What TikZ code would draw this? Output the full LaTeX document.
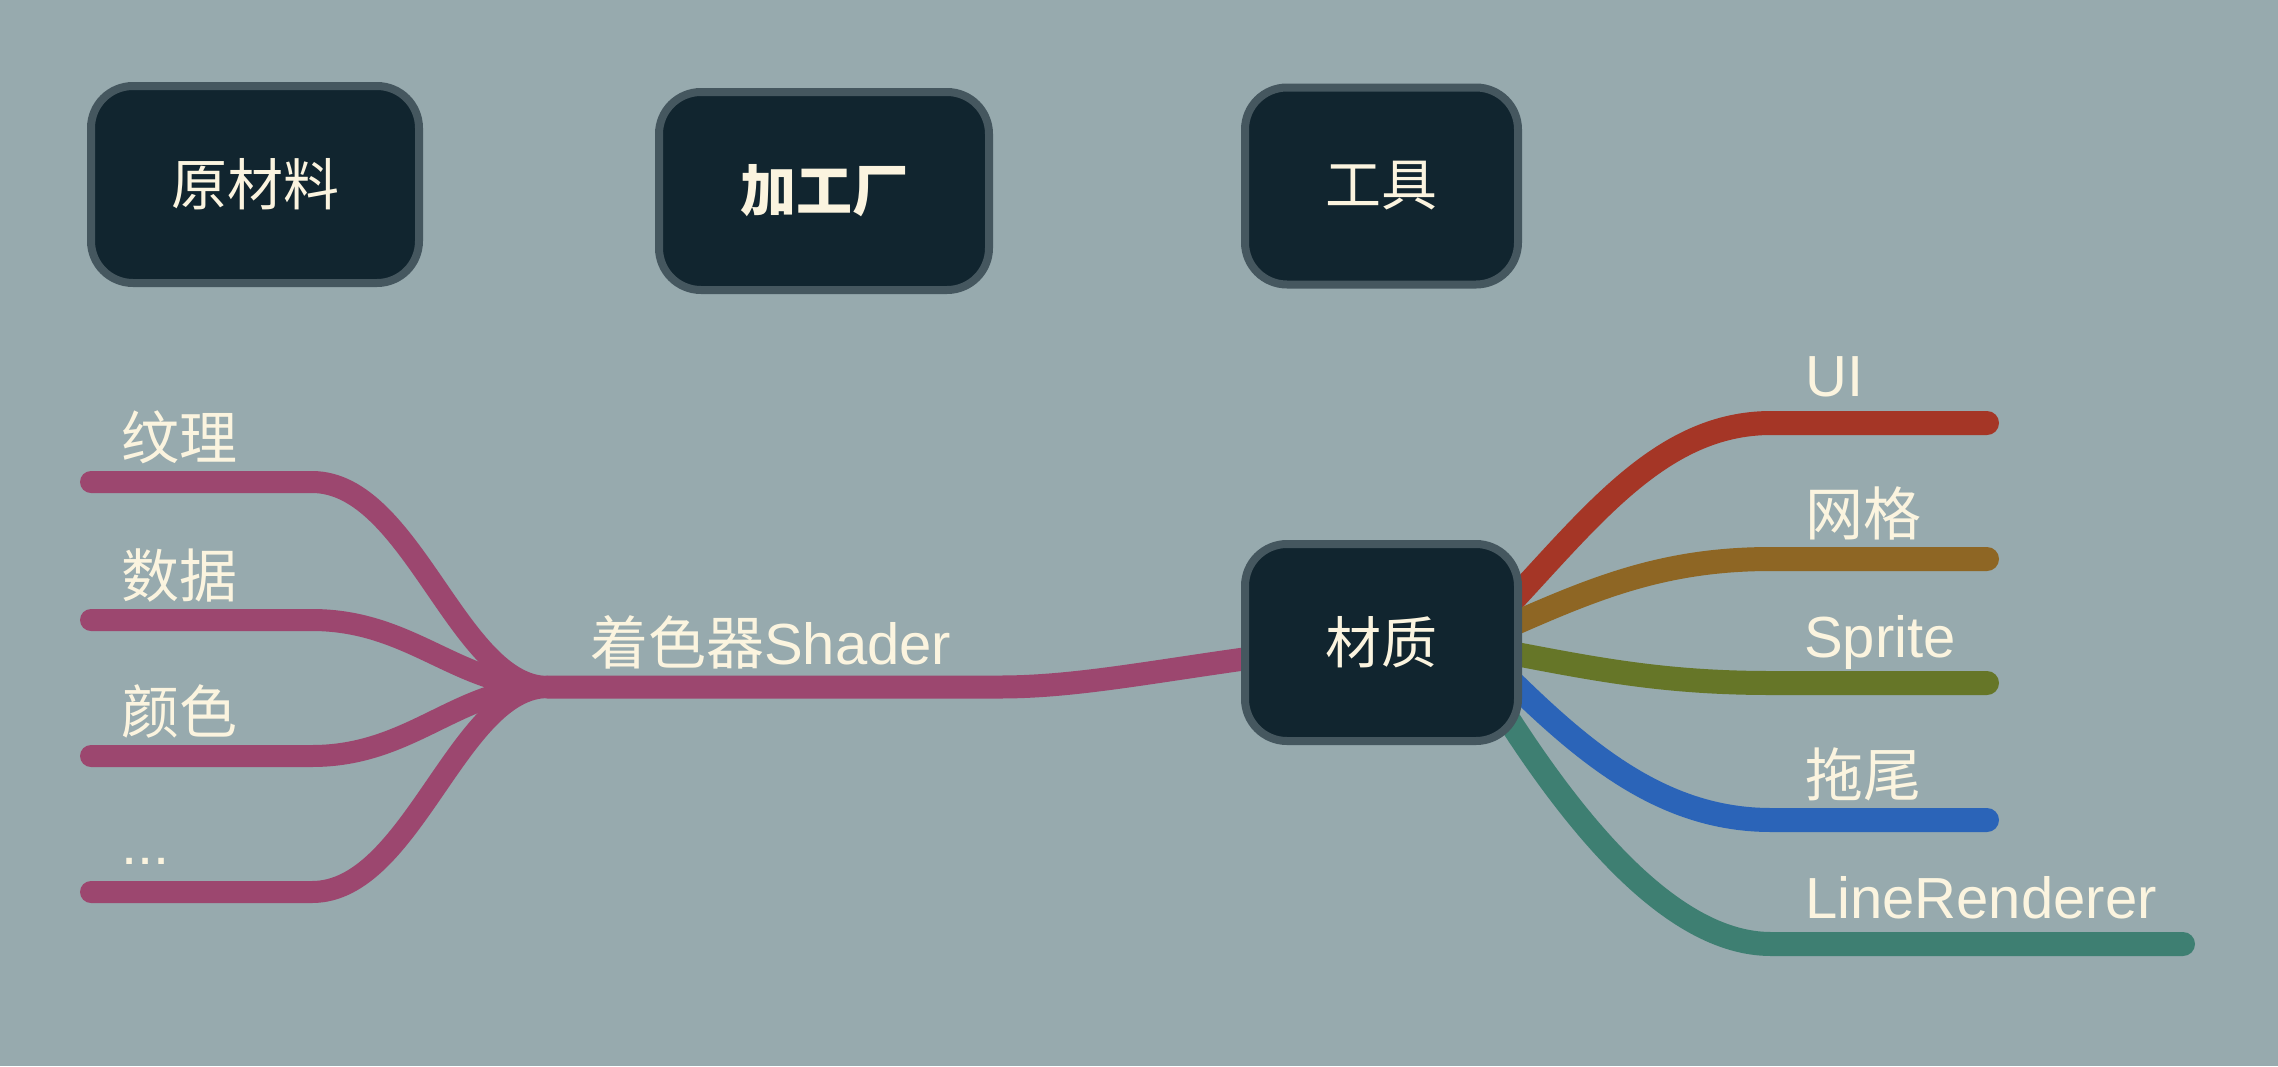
\documentclass[tikz,border=0pt]{standalone}
\usepackage{fontspec}
\setmainfont{Liberation Sans}
\newfontfamily\cjk{Noto Sans CJK SC}
\usetikzlibrary{calc}
\definecolor{bg}{HTML}{97AAAE}
\definecolor{boxfill}{HTML}{11252F}
\definecolor{boxline}{HTML}{45575F}
\definecolor{cream}{HTML}{FBF4DF}
\definecolor{pinkb}{HTML}{9C476F}
\definecolor{redb}{HTML}{A53626}
\definecolor{brownb}{HTML}{8E6624}
\definecolor{oliveb}{HTML}{667628}
\definecolor{blueb}{HTML}{2B64B8}
\definecolor{tealb}{HTML}{3E7F72}
\pgfdeclarelayer{bgfill}
\pgfdeclarelayer{lines}
\pgfsetlayers{bgfill,lines,main}
\begin{document}
\begin{tikzpicture}[x=1pt,y=-1pt,
  box/.style={draw=boxline, fill=boxfill, line width=8pt, rounded corners=42pt,
    minimum width=273pt, minimum height=197pt, text=cream, inner sep=0pt,
    font=\cjk\fontsize{56}{66}\selectfont},
  lbl/.style={anchor=base west, inner sep=0pt, text=cream, font=\fontsize{58}{70}\selectfont},
  branch/.style={line width=22pt, line cap=round},
  rbranch/.style={line width=24pt, line cap=round}
]
\useasboundingbox (0,0) rectangle (2278,1066);
\begin{pgfonlayer}{bgfill}
\fill[bg] (0,0) rectangle (2278,1066);
\end{pgfonlayer}

% boxes
\node[box, minimum width=328pt] (raw) at (255,184.5) {原材料};
\node[box, minimum width=330pt, minimum height=198pt, font=\cjk\bfseries\fontsize{56}{66}\selectfont] (fac) at (824,191) {加工厂};
\node[box] (tool) at (1381.5,186) {工具};
\node[box] (mat) at (1381.5,642.5) {材质};

% coordinates
\coordinate (J) at (548,687);
\coordinate (a1) at (91,482);
\coordinate (a2) at (91,620);
\coordinate (a3) at (91,756);
\coordinate (a4) at (91,892);
\coordinate (shk) at (1000,687);
\coordinate (uiS) at (1771,423);   \coordinate (uiE) at (1987,423);
\coordinate (wgS) at (1771,559);   \coordinate (wgE) at (1987,559);
\coordinate (spS) at (1771,683);   \coordinate (spE) at (1987,683);
\coordinate (twS) at (1771,820);   \coordinate (twE) at (1987,820);
\coordinate (lrS) at (1771,944);   \coordinate (lrE) at (2183,944);

\begin{pgfonlayer}{lines}
% left branches
\draw[branch, pinkb] (a1) -- ++(221,0) .. controls +(100,0) and +(-90,0) .. (J);
\draw[branch, pinkb] (a2) -- ++(221,0) .. controls +(100,0) and +(-90,0) .. (J);
\draw[branch, pinkb] (a3) -- ++(221,0) .. controls +(100,0) and +(-90,0) .. (J);
\draw[branch, pinkb] (a4) -- ++(221,0) .. controls +(100,0) and +(-90,0) .. (J);
% shader to material
\draw[branch, pinkb, line width=23pt] (J) -- (shk) .. controls +(100,0) and (1200,660) .. (mat.center);
% right branches
\draw[rbranch, redb] ($(mat.center)+(118,-28)$) .. controls +(90,-95) and +(-111,0) .. (uiS) -- (uiE);
\draw[rbranch, brownb] ($(mat.center)+(113.5,-10.5)$) .. controls +(95,-42) and +(-111,0) .. (wgS) -- (wgE);
\draw[rbranch, oliveb] ($(mat.center)+(113.5,7.5)$) .. controls +(95,18) and +(-111,0) .. (spS) -- (spE);
\draw[rbranch, blueb] ($(mat.center)+(113.5,22.5)$) .. controls +(85,85) and +(-111,0) .. (twS) -- (twE);
\draw[rbranch, tealb] ($(mat.center)+(108.5,47.5)$) .. controls +(80,130) and +(-101,0) .. (lrS) -- (lrE);
\end{pgfonlayer}

% labels
\node[lbl] (t1) at (121,459) {\cjk 纹理};
\node[lbl] (t2) at (121,597) {\cjk 数据};
\node[lbl] (t3) at (121,733) {\cjk 颜色};
\node[lbl] (t4) at (121,864) {...};
\node[lbl] (sh) at (590,664) {{\cjk 着色器}Shader};
\node[lbl] (ui) at (1805,396) {UI};
\node[lbl] (wg) at (1805,535) {\cjk 网格};
\node[lbl] (sp) at (1804,657) {Sprite};
\node[lbl] (tw) at (1805,796) {\cjk 拖尾};
\node[lbl] (lr) at (1805,918) {LineRenderer};
\end{tikzpicture}
\end{document}
